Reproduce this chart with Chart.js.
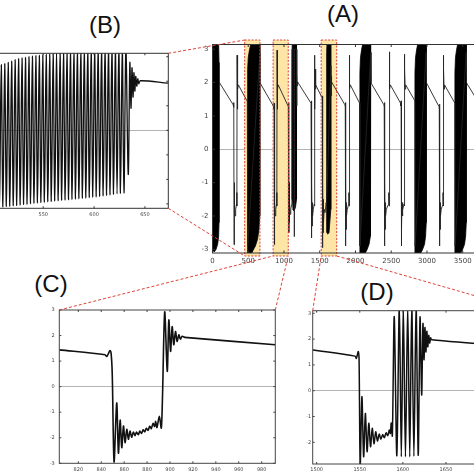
<!DOCTYPE html>
<html>
<head>
<meta charset="utf-8">
<script src="https://cdn.jsdelivr.net/npm/chart.js@4.4.1/dist/chart.umd.min.js"></script>
<style>
  html, body { margin: 0; padding: 0; background: #fff; width: 474px; height: 474px; overflow: hidden; }
  canvas { position: absolute; }
  .tag { position: absolute; font: 24px "Liberation Sans", Arial, sans-serif; color: #111;
         transform: translate(-50%, -50%); line-height: 1; white-space: nowrap; }
</style>
</head>
<body>
<div class="tag" style="left:343px;top:14px">(A)</div>
<div class="tag" style="left:105px;top:25px">(B)</div>
<div class="tag" style="left:51px;top:284px">(C)</div>
<div class="tag" style="left:377px;top:292px">(D)</div>
<canvas id="chartA"></canvas>
<canvas id="chartB"></canvas>
<canvas id="chartC"></canvas>
<canvas id="chartD"></canvas>
<canvas id="overlay" width="474" height="474" style="left:0;top:0;pointer-events:none"></canvas>
<script>
/* ---- Panel A: full trace, x 0..3700 ---- */
const aXTicks = [0, 500, 1000, 1500, 2000, 2500, 3000, 3500];
const aYTicks = [-3, -2, -1, 0, 1, 2, 3];

// dense oscillation episodes, drawn as filled outlines
const aBands = [
  [[0,-3.05],[0,3.2],[86,3.2],[91,2.6],[91,-2.2],[86,-2.6],[72,-2.85],[50,-3.0],[25,-3.08]],
  [[492,-3.12],[492,2.4],[500,2.75],[515,2.95],[540,3.2],[664,3.2],[664,-1.5],[660,-2.0],[650,-2.4],[630,-2.7],[600,-2.9],[570,-3.02],[548,-3.12]],
  [[1112,-1.5],[1112,2.9],[1116,3.2],[1174,3.2],[1177,2.6],[1177,-0.8],[1172,-1.5],[1160,-1.75],[1140,-1.85],[1120,-1.8]],
  [[1597,-2.5],[1597,2.9],[1602,3.2],[1652,3.2],[1657,2.4],[1657,-0.3],[1650,-1.8],[1630,-2.5],[1610,-2.55]],
  [[2062,-3.12],[2062,2.3],[2070,2.75],[2085,2.98],[2105,3.2],[2214,3.2],[2214,-2.2],[2205,-2.6],[2190,-2.85],[2160,-3.02],[2135,-3.12]],
  [[2832,-3.12],[2832,2.3],[2840,2.75],[2855,2.98],[2875,3.2],[2990,3.2],[2990,-2.2],[2981,-2.6],[2966,-2.85],[2936,-3.02],[2911,-3.12]],
  [[3391,-3.12],[3391,2.3],[3399,2.75],[3414,2.98],[3434,3.2],[3550,3.2],[3550,-2.2],[3541,-2.6],[3526,-2.85],[3496,-3.02],[3471,-3.12]]
];

const aTrace = [
  [91,2.02],[290,1.33],[296,1.26],[299,1.4],[301,-2.86],[304,-1.0],[307,-2.4],[311,-1.6],[316,-2.0],[324,-1.8],[337,-1.65],[340,-1.3],[342,-1.7],[344,2.82],[347,1.2],[350,2.4],[355,1.8],[362,1.93],
  [487,1.43],[492,-2.9],[664,2.9],[667,1.98],
  [858,1.27],[860,1.2],[861,1.38],[863,-2.86],[866,-1.0],[869,-2.4],[873,-1.6],[878,-2.0],[885,-1.8],[896,-1.65],[899,-1.3],[901,-1.7],[903,2.97],[906,1.2],[909,2.4],[913,1.8],[919,1.93],
  [1061,1.28],[1065,1.2],[1067,1.4],[1069,-2.5],[1072,-1.0],[1075,-2.2],[1080,-1.6],[1086,-1.95],[1095,-1.8],[1108,-1.65],[1111,-1.3],[1113,3.0],[1142,3.0],[1144,-2.62],[1146,3.0],[1175,3.0],[1178,1.3],[1181,2.3],[1185,1.9],[1190,2.02],
  [1378,1.38],[1382,1.3],[1385,1.45],[1387,-2.66],[1390,-1.0],[1393,-2.3],[1397,-1.6],[1402,-2.0],[1410,-1.8],[1423,-1.65],[1426,-1.3],[1428,-1.7],[1430,2.82],[1433,1.2],[1436,2.4],[1440,1.8],[1446,1.93],
  [1536,1.53],[1538,1.6],[1540,-2.95],[1543,-1.0],[1546,-2.5],[1550,-1.5],[1555,-2.2],[1562,-1.8],[1575,-1.9],[1590,-1.6],[1594,-1.3],[1597,-1.7],[1657,2.5],[1660,1.6],[1663,2.2],[1667,2.02],
  [1853,1.33],[1857,1.26],[1860,1.4],[1862,-2.9],[1865,-1.0],[1868,-2.4],[1872,-1.6],[1877,-2.0],[1885,-1.8],[1905,-1.65],[1908,-1.3],[1910,-1.7],[1912,2.82],[1915,1.2],[1918,2.4],[1922,1.8],[1928,1.93],
  [2058,1.38],[2062,-2.9],[2214,2.9],[2217,1.99],
  [2398,1.33],[2402,1.26],[2405,1.4],[2408,-2.9],[2411,-1.0],[2414,-2.4],[2418,-1.6],[2423,-2.0],[2432,-1.8],[2462,-1.65],[2466,-1.3],[2469,-1.7],[2472,2.92],[2475,1.2],[2478,2.4],[2482,1.8],[2488,1.93],
  [2631,1.38],[2635,1.3],[2638,1.45],[2641,-2.9],[2644,-1.0],[2647,-2.4],[2651,-1.6],[2656,-2.0],[2664,-1.8],[2679,-1.65],[2682,-1.3],[2684,-1.7],[2686,2.85],[2689,1.2],[2692,2.4],[2696,1.8],[2702,1.93],
  [2832,1.45],[2834,-2.9],[2988,2.9],[2993,1.99],
  [3168,1.28],[3172,1.2],[3175,1.35],[3177,-2.9],[3180,-1.0],[3183,-2.4],[3187,-1.6],[3192,-2.0],[3200,-1.8],[3222,-1.65],[3225,-1.3],[3228,-1.7],[3230,2.82],[3233,1.2],[3236,2.4],[3240,1.8],[3246,1.93],
  [3391,1.38],[3393,-2.9],[3548,2.9],[3553,1.99],
  [3700,1.48]
];

// zoomed windows marked on panel A (B, C, D)
const zoomRanges = [[450, 664], [848, 1060], [1520, 1737]];

/* ---- Panel B: end of the second burst ---- */
const bXTicks = [500, 550, 600, 650];
const bYTicks = [-3, -2, -1, 0, 1, 2, 3];
const bTrace = [
  [490.0,-3.12],[491.7,2.45],[493.4,-3.13],[495.1,2.5],[496.8,-3.14],[498.5,2.55],[500.2,-3.14],[501.9,2.6],
  [503.6,-3.14],[505.3,2.64],[507.0,-3.13],[508.7,2.68],[510.4,-3.12],[512.1,2.72],[513.8,-3.1],[515.5,2.77],
  [517.2,-3.09],[518.9,2.82],[520.6,-3.07],[522.3,2.88],[524.0,-3.06],[525.7,2.92],[527.4,-3.04],[529.1,2.95],
  [530.8,-3.02],[532.5,2.97],[534.2,-3.01],[535.9,3.0],[537.6,-2.99],[539.3,3.02],[541.0,-2.97],[542.7,3.04],
  [544.4,-2.96],[546.1,3.05],[547.8,-2.94],[549.5,3.07],[551.2,-2.93],[552.9,3.09],[554.6,-2.91],[556.3,3.11],
  [558.0,-2.9],[559.7,3.13],[561.4,-2.88],[563.1,3.15],[564.8,-2.87],[566.5,3.17],[568.2,-2.85],[569.9,3.19],
  [571.6,-2.84],[573.3,3.2],[575.0,-2.83],[576.7,3.22],[578.4,-2.81],[580.1,3.24],[581.8,-2.8],[583.5,3.25],
  [585.2,-2.78],[586.9,3.27],[588.6,-2.77],[590.3,3.28],[592.0,-2.75],[593.7,3.3],[595.4,-2.74],[597.1,3.31],
  [598.8,-2.72],[600.5,3.32],[602.2,-2.71],[603.9,3.33],[605.6,-2.69],[607.3,3.34],[609.0,-2.67],[610.7,3.35],
  [612.4,-2.65],[614.1,3.36],[615.8,-2.63],[617.5,3.37],[619.2,-2.61],[620.9,3.38],[622.6,-2.59],[624.3,3.38],
  [626.0,-2.57],[627.7,3.39],[629.4,-2.55],[631.3,3.3],
  [633.6,-1.8],[635.2,2.75],[636.3,0.9],[637.3,2.55],[638.3,1.35],[639.2,2.35],[640.1,1.6],[641.0,2.2],
  [642.0,1.8],[643.0,2.1],[644.0,1.9],[645.5,2.02],[673,1.92]
];

/* ---- Panel C: single switching event ---- */
const cXTicks = [820, 840, 860, 880, 900, 920, 940, 960, 980];
const cYTicks = [-3, -2, -1, 0, 1, 2, 3];
const cTrace = [
  [803.4,1.44],[843.3,1.25],[844.8,1.18],[846.3,1.3],[847.6,1.41],[848.6,1.3],[849.6,0.5],[851.2,-2.95],
  [853.5,-0.64],[855,-2.6],[856.5,-1.31],[857.9,-2.39],[859.4,-1.54],[860.8,-2.19],[862.3,-1.67],[863.7,-2.06],
  [865.1,-1.74],[866.5,-1.98],[868,-1.78],[869.4,-1.92],[870.8,-1.78],[872.3,-1.88],[873.7,-1.74],[875.1,-1.83],
  [876.6,-1.69],[878,-1.77],[879.4,-1.63],[880.9,-1.71],[882.3,-1.55],[883.7,-1.64],[885.2,-1.44],[886.6,-1.56],
  [887.5,-1.36],[888.6,-1.6],[890.7,-1.16],[892.4,-1.62],[893.4,-0.5],[895.4,2.93],[897.6,0.6],[899,2.61],
  [900.5,1.38],[901.9,2.35],[903.3,1.64],[904.8,2.16],[906.2,1.77],[907.7,2.03],[909.1,1.86],[910.6,1.97],
  [912.9,1.93],[991.9,1.64]
];

/* ---- Panel D: switching event with a short burst ---- */
const dXTicks = [1500, 1550, 1600, 1650, 1700];
const dYTicks = [-2, -1, 0, 1, 2, 3];
const dTrace = [
  [1495.4,1.58],[1544.5,1.34],[1546,1.25],[1547.3,1.4],[1548.3,1.52],[1549.2,1.2],[1550.5,-2.9],
  [1552.5,-0.23],[1554.5,-2.56],[1556.5,-0.88],[1558.5,-2.36],[1560.5,-1.26],[1562.5,-2.17],[1564.5,-1.46],
  [1566.5,-2.05],[1568.5,-1.59],[1570.5,-1.95],[1572.5,-1.68],[1574.5,-1.88],[1576.5,-1.7],[1578.5,-1.82],
  [1580.5,-1.63],[1582.5,-1.74],[1584.3,-1.52],[1585.5,-1.66],[1586.5,-1.25],[1587.8,-1.75],
  [1590,2.87],[1593,-2.52],[1595.9,3.3],[1598.2,-2.56],[1600.5,3.3],[1603,-2.56],[1605.6,3.3],[1608,-2.56],
  [1610.3,3.3],[1612.8,-2.54],[1615.3,3.3],[1617.8,-2.5],[1619.9,2.85],[1621.8,-0.17],
  [1623.3,2.6],[1624.5,1.2],[1625.6,2.45],[1626.7,1.5],[1627.8,2.3],[1628.9,1.7],[1630,2.15],[1631.1,1.85],
  [1632.2,2.05],[1633.4,1.97],[1744,1.68]
];

/* ------------------------------------------------------------------ */

const TICK_FONT = '"DejaVu Sans", sans-serif';

// box frame + inward tick marks, gnuplot style
const framePlugin = {
  id: 'frame',
  afterDatasetsDraw(chart, args, opts) {
    const { ctx, chartArea: a, scales: { x, y } } = chart;
    const L = opts.tick || 3;
    ctx.save();
    ctx.strokeStyle = opts.color || '#333';
    ctx.lineWidth = 1;
    ctx.strokeRect(a.left, a.top, a.right - a.left, a.bottom - a.top);
    ctx.beginPath();
    for (const t of x.ticks) {
      const px = x.getPixelForValue(t.value);
      ctx.moveTo(px, a.bottom); ctx.lineTo(px, a.bottom - L);
      ctx.moveTo(px, a.top); ctx.lineTo(px, a.top + L);
    }
    for (const t of y.ticks) {
      const py = y.getPixelForValue(t.value);
      ctx.moveTo(a.left, py); ctx.lineTo(a.left + L, py);
      ctx.moveTo(a.right, py); ctx.lineTo(a.right - L, py);
    }
    ctx.stroke();
    ctx.restore();
  }
};

// yellow windows on panel A
const highlightPlugin = {
  id: 'highlight',
  beforeDatasetsDraw(chart) {
    const { ctx, chartArea: a, scales: { x } } = chart;
    ctx.save();
    ctx.fillStyle = '#fde5a6';
    for (const [lo, hi] of zoomRanges) {
      const l = x.getPixelForValue(lo), r = x.getPixelForValue(hi);
      ctx.fillRect(l, a.top - 4.5, r - l, a.bottom - a.top + 7.5);
    }
    ctx.restore();
  },
  afterDatasetsDraw(chart) {
    const { ctx, chartArea: a, scales: { x } } = chart;
    ctx.save();
    ctx.strokeStyle = '#dc4438';
    ctx.lineWidth = 1;
    ctx.setLineDash([2, 1.5]);
    for (const [lo, hi] of zoomRanges) {
      const l = x.getPixelForValue(lo), r = x.getPixelForValue(hi);
      ctx.strokeRect(l, a.top - 4.5, r - l, a.bottom - a.top + 7.5);
    }
    ctx.restore();
  }
};

function makePanel(id, geo, cfg) {
  const cv = document.getElementById(id);
  cv.width = geo.w; cv.height = geo.h;
  cv.style.left = geo.left + 'px'; cv.style.top = geo.top + 'px';
  cv.style.width = geo.w + 'px'; cv.style.height = geo.h + 'px';

  const tickOpts = (pad) => ({
    font: { family: TICK_FONT, size: cfg.fontSize },
    color: '#444',
    padding: pad,
    autoSkip: false,
    maxRotation: 0,
    callback: (v) => String(v),
  });

  return new Chart(cv, {
    type: 'scatter',
    data: { datasets: cfg.datasets },
    options: {
      responsive: false,
      animation: false,
      events: [],
      layout: { padding: cfg.padding },
      elements: { point: { radius: 0 }, line: { borderJoinStyle: 'round' } },
      plugins: {
        legend: { display: false },
        tooltip: { enabled: false },
        frame: { tick: cfg.tickLen, color: cfg.frameColor },
      },
      scales: {
        x: {
          type: 'linear', min: cfg.x[0], max: cfg.x[1],
          afterBuildTicks: (s) => { s.ticks = cfg.xTicks.map((v) => ({ value: v })); },
          afterFit: (s) => { s.height = cfg.xH; s.paddingLeft = 0; s.paddingRight = 0; },
          grid: { display: false, drawTicks: false },
          border: { display: false },
          ticks: tickOpts(cfg.xPad),
        },
        y: {
          type: 'linear', min: cfg.y[0], max: cfg.y[1],
          afterBuildTicks: (s) => { s.ticks = cfg.yTicks.map((v) => ({ value: v })); },
          afterFit: (s) => { s.width = cfg.yW; s.paddingTop = 0; s.paddingBottom = 0; },
          grid: {
            drawTicks: false,
            lineWidth: 1,
            color: (c) => (c.tick && c.tick.value === 0 ? '#b4b4b4' : 'rgba(0,0,0,0)'),
          },
          border: { display: false },
          ticks: tickOpts(cfg.yPad),
        },
      },
    },
    plugins: cfg.extraPlugins ? [...cfg.extraPlugins, framePlugin] : [framePlugin],
  });
}

function lineSet(data, width, color) {
  return { data, showLine: true, fill: false, borderColor: color, borderWidth: width, tension: 0, pointRadius: 0 };
}

/* ---- Build panels ---- */
const bandSets = aBands.map((poly) => ({
  data: poly, showLine: true, fill: 'shape', backgroundColor: '#000', borderColor: '#000',
  borderWidth: 0.8, tension: 0, pointRadius: 0,
}));

const chartA = makePanel('chartA', { left: 170, top: 30, w: 310, h: 240 }, {
  x: [0, 3700], y: [-3.11, 3.14], xTicks: aXTicks, yTicks: aYTicks,
  padding: { top: 14.5, right: 3, left: 0, bottom: 0 }, yW: 42.5, xH: 17,
  fontSize: 7, xPad: 4, yPad: 4, tickLen: 2.5, frameColor: '#333',
  datasets: [lineSet(aTrace, 0.9, '#222'), ...bandSets],
  extraPlugins: [highlightPlugin],
});

const chartB = makePanel('chartB', { left: -60, top: 40, w: 232, h: 185 }, {
  x: [490, 673], y: [-3.18, 3.14], xTicks: bXTicks, yTicks: bYTicks,
  padding: { top: 13.3, right: 3.7, left: 0, bottom: 0 }, yW: 42.2, xH: 16.7,
  fontSize: 5, xPad: 3.5, yPad: 3, tickLen: 2, frameColor: '#333',
  datasets: [Object.assign(lineSet(bTrace, 1.3, '#111'), { tension: 0.35 })],
});

const chartC = makePanel('chartC', { left: 20, top: 300, w: 262, h: 174 }, {
  x: [803.4, 991.9], y: [-3, 3], xTicks: cXTicks, yTicks: cYTicks,
  padding: { top: 10, right: 6.7, left: 0, bottom: 0 }, yW: 39.3, xH: 10.7,
  fontSize: 5, xPad: 3.5, yPad: 4.5, tickLen: 2, frameColor: '#444',
  datasets: [Object.assign(lineSet(cTrace, 1.6, '#111'), { tension: 0.3 })],
});

const chartD = makePanel('chartD', { left: 280, top: 300, w: 250, h: 174 }, {
  x: [1495.4, 1744], y: [-2.84, 3.1], xTicks: dXTicks, yTicks: dYTicks,
  padding: { top: 10.7, right: 3, left: 0, bottom: 0 }, yW: 32.7, xH: 10,
  fontSize: 5, xPad: 3, yPad: 1.5, tickLen: 2, frameColor: '#444',
  datasets: [Object.assign(lineSet(dTrace, 1.5, '#111'), { tension: 0.3 })],
});

/* ---- Dashed connectors between windows and zoom panels ---- */
function area(chart) {
  const l = parseFloat(chart.canvas.style.left), t = parseFloat(chart.canvas.style.top);
  const a = chart.chartArea;
  return { left: l + a.left, right: l + a.right, top: t + a.top, bottom: t + a.bottom };
}

function windowBox(i) {
  const l = parseFloat(chartA.canvas.style.left), t = parseFloat(chartA.canvas.style.top);
  const a = chartA.chartArea, x = chartA.scales.x;
  return {
    left: l + x.getPixelForValue(zoomRanges[i][0]),
    right: l + x.getPixelForValue(zoomRanges[i][1]),
    top: t + a.top - 4.5,
    bottom: t + a.bottom + 3,
  };
}

(function drawConnectors() {
  const ctx = document.getElementById('overlay').getContext('2d');
  const B = area(chartB), C = area(chartC), D = area(chartD);
  const w1 = windowBox(0), w2 = windowBox(1), w3 = windowBox(2);
  const segs = [
    [B.right, B.top, w1.left, w1.top],
    [B.right, B.bottom, w1.left, w1.bottom],
    [C.left, C.top, w2.left, w2.bottom],
    [C.right, C.top, w2.right, w2.bottom],
    [D.left, D.top, w3.left, w3.bottom],
    [D.right, D.top, w3.right, w3.bottom],
  ];
  ctx.strokeStyle = '#dc4438';
  ctx.lineWidth = 1;
  ctx.setLineDash([3, 2]);
  for (const [x1, y1, x2, y2] of segs) {
    ctx.beginPath();
    ctx.moveTo(x1, y1);
    ctx.lineTo(x2, y2);
    ctx.stroke();
  }
})();
</script>
</body>
</html>
